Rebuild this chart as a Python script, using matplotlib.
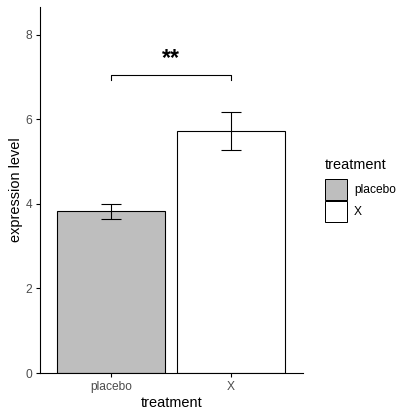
import matplotlib
matplotlib.use("Agg")
import matplotlib.pyplot as plt
from matplotlib.patches import Patch

categories = ["placebo", "X"]
means = [3.83, 5.73]
err_low = [3.64, 5.28]
err_high = [4.00, 6.18]
fills = ["#BEBEBE", "#FFFFFF"]
yticks = [0, 2, 4, 6, 8]
sig_label = "**"
sig_y = 7.05

plt.rcParams['font.family'] = ['Liberation Sans', 'DejaVu Sans']

W, H = 414, 418
fig = plt.figure(figsize=(W / 72, H / 72), dpi=72)
ax = fig.add_axes([40 / W, 1 - 373 / H, (303 - 40) / W, (373 - 7) / H])

x = [1, 2]
ax.bar(x, means, width=0.9, color=fills, edgecolor="black", linewidth=1.1, zorder=2)
yerr = [[m - l for m, l in zip(means, err_low)], [h - m for m, h in zip(means, err_high)]]
ax.errorbar(x, means, yerr=yerr, fmt="none", ecolor="black", elinewidth=1.1,
            capsize=10, capthick=1.1, zorder=3)

# significance bracket
ax.plot([1, 1, 2, 2], [sig_y - 0.12, sig_y, sig_y, sig_y - 0.12], color="black", lw=1.1)
ax.text(1.5, sig_y + 0.12, sig_label, ha="center", va="bottom", fontsize=23, fontweight="bold")

ax.set_xlim(0.408, 2.6)
ax.set_ylim(0, 8.66)
ax.set_xticks(x)
ax.set_xticklabels(categories)
ax.set_yticks(yticks)
for s in ["top", "right"]:
    ax.spines[s].set_visible(False)
for s in ["left", "bottom"]:
    ax.spines[s].set_linewidth(1.1)
ax.tick_params(axis="both", labelsize=12, length=4, width=1.1, labelcolor="#4D4D4D", color="black", pad=4)
ax.set_xlabel("treatment", fontsize=14.5, labelpad=3)
ax.set_ylabel("expression level", fontsize=14.5, labelpad=2)

fig.text(325 / W, 1 - 158 / H, "treatment", fontsize=14.5, ha="left", va="top")
handles = [Patch(facecolor=c, edgecolor="black", linewidth=1.0) for c in fills]
leg = fig.legend(handles, categories, loc="upper left",
                 bbox_to_anchor=(325 / W, 1 - 179 / H), frameon=False,
                 fontsize=12, handlelength=1.83, handleheight=2.3, borderpad=0,
                 handletextpad=0.6, labelspacing=0.12, borderaxespad=0)

fig.savefig("out.png", dpi=72)
